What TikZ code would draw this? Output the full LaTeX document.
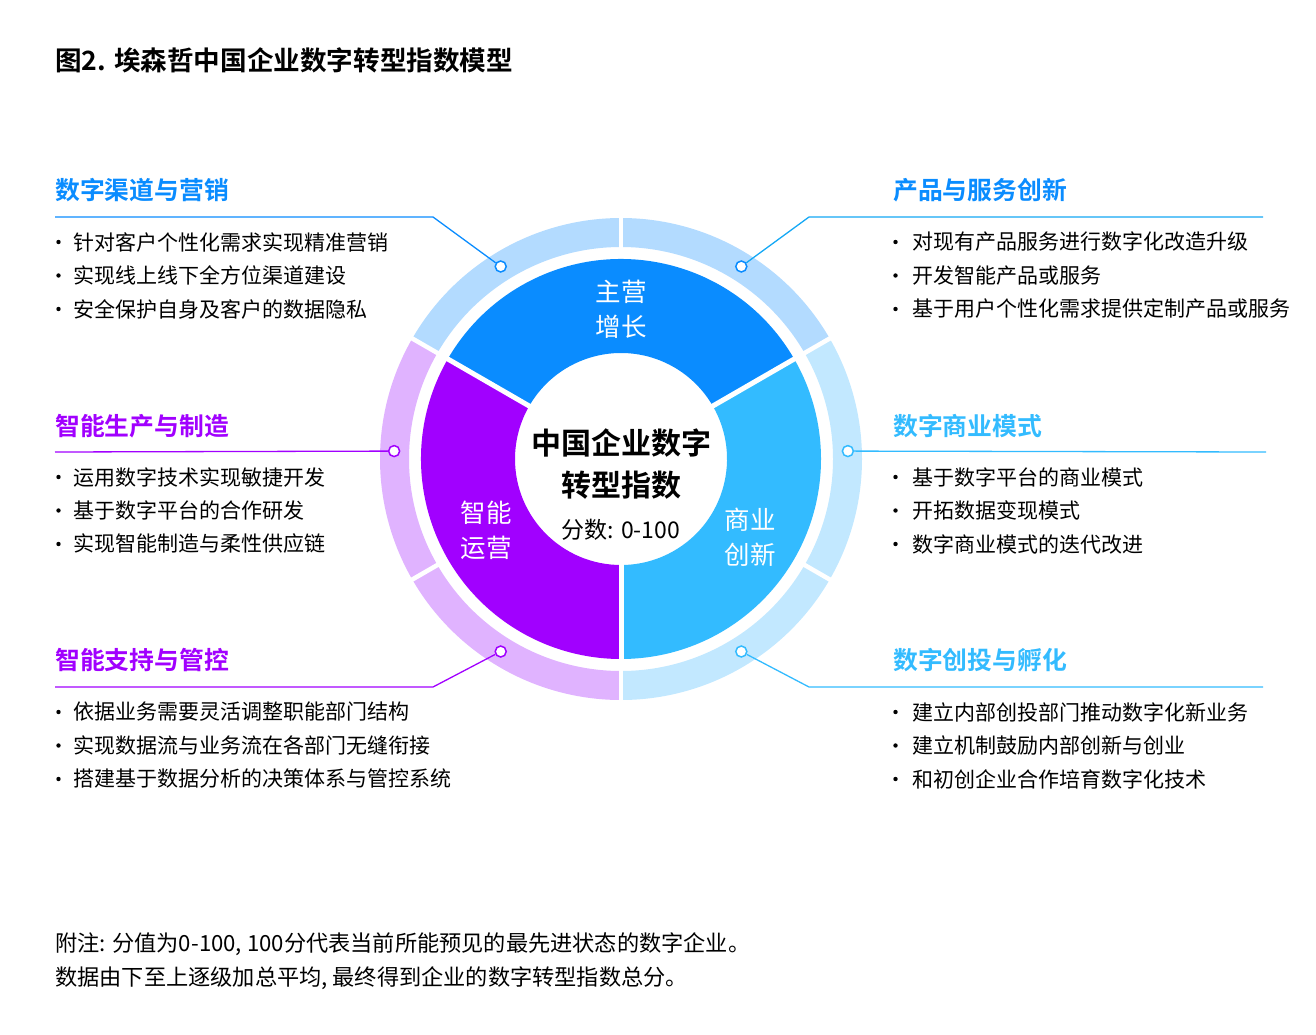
\documentclass[tikz,border=0pt]{standalone}
\usepackage{fontspec}
\setmainfont{Noto Sans CJK SC}[BoldFont={Noto Sans CJK SC Bold}]
\usepackage{tikz}
\usetikzlibrary{calc}

\definecolor{acnblue}{HTML}{0A8CFF}
\definecolor{acnpurple}{HTML}{A100FF}
\definecolor{acnsky}{HTML}{33BBFF}
\definecolor{acncyan}{HTML}{14A8F5}
\definecolor{ringblue}{HTML}{B3DBFF}
\definecolor{ringpurple}{HTML}{E0B3FF}
\definecolor{ringsky}{HTML}{C2E8FF}

\tikzset{
  heading/.style={anchor=west, inner sep=0pt, font=\fontsize{24.8}{28}\selectfont\bfseries},
  item/.style={anchor=west, inner sep=0pt, font=\fontsize{21}{24}\selectfont},
  pin/.style={circle, draw, fill=white, line width=1.5pt, inner sep=0pt, minimum size=11pt},
  link/.style={line width=1.3pt},
  seglabel/.style={white, align=center, font=\fontsize{25.5}{35}\selectfont},
}

\begin{document}
\begin{tikzpicture}[x=1pt,y=1pt]
\useasboundingbox (0,0) rectangle (1316,-1035);

\node[anchor=west, inner sep=0pt, font=\fontsize{26.6}{30}\selectfont\bfseries] (title) at (55,-60) {图2. 埃森哲中国企业数字转型指数模型};

% rings
\begin{scope}[shift={(621,-459)}]
\foreach \a/\b/\c in {90/150/ringblue, 30/90/ringblue, 150/210/ringpurple, 210/270/ringpurple, 270/330/ringsky, 330/390/ringsky}
  \fill[\c] (\a:241) arc[start angle=\a, end angle=\b, radius=241] -- (\b:212) arc[start angle=\b, end angle=\a, radius=212] -- cycle;
\foreach \a/\b/\c in {30/150/acnblue, 150/270/acnpurple, 270/390/acnsky}
  \fill[\c] (\a:200) arc[start angle=\a, end angle=\b, radius=200] -- (\b:106) arc[start angle=\b, end angle=\a, radius=106] -- cycle;
\foreach \a in {30,150,270}
  \draw[white, line width=5pt] (\a:100) -- (\a:204);
\foreach \a in {30,90,...,330}
  \draw[white, line width=4.5pt] (\a:208) -- (\a:245);

\node[pin, draw=acnblue] (ulpin) at (122:227) {};
\node[pin, draw=acnblue] (urpin) at (58:227) {};
\node[pin, draw=acnpurple] (mlpin) at (178:227) {};
\node[pin, draw=acnsky] (mrpin) at (2:227) {};
\node[pin, draw=acnpurple] (llpin) at (238:227) {};
\node[pin, draw=acnsky] (lrpin) at (302:227) {};
\end{scope}

% centre
\node[font=\fontsize{30}{34}\selectfont\bfseries] (core) at (621,-443) {中国企业数字};
\node[font=\fontsize{30}{34}\selectfont\bfseries] (core2) at (621,-485) {转型指数};
\node[font=\fontsize{23}{26}\selectfont] (score) at (621,-530) {分数: 0-100};

\node[seglabel] (growth) at (621,-309) {主营\\增长};
\node[seglabel] (ops) at (486,-530) {智能\\运营};
\node[seglabel] (biz) at (750,-537) {商业\\创新};

% connectors
\coordinate (ulstart) at (55,-217);
\coordinate (ulbend) at (433,-217);
\coordinate (urbend) at (809,-217);
\coordinate (urend) at (1263,-217);
\coordinate (mlstart) at (55,-452);
\coordinate (mrend) at (1266,-452);
\coordinate (llstart) at (55,-687);
\coordinate (llbend) at (433,-687);
\coordinate (lrbend) at (809,-687);
\coordinate (lrend) at (1263,-687);

\draw[link, acnblue] (ulstart) -- (ulbend) -- (ulpin);
\draw[link, acncyan] (urpin) -- (urbend) -- (urend);
\draw[link, acnpurple] (mlstart) -- (mlpin);
\draw[link, acnsky] (mrpin) -- (mrend);
\draw[link, acnpurple] (llstart) -- (llbend) -- (llpin);
\draw[link, acnsky] (lrpin) -- (lrbend) -- (lrend);

% headings
\node[heading, acnblue] (channel) at (55,-190) {数字渠道与营销};
\node[heading, acnblue] (product) at (893,-190) {产品与服务创新};
\node[heading, acnpurple] (making) at (55,-426) {智能生产与制造};
\node[heading, acnsky] (model) at (893,-426) {数字商业模式};
\node[heading, acnpurple] (support) at (55,-660) {智能支持与管控};
\node[heading, acnsky] (venture) at (893,-660) {数字创投与孵化};

% bullet lists
\foreach \t [count=\i] in {针对客户个性化需求实现精准营销, 实现线上线下全方位渠道建设, 安全保护自身及客户的数据隐私} {
  \fill (58.5,-242-33.5*\i+33.5) circle (2.2);
  \node[item] (ch\i) at (73,-242-33.5*\i+33.5) {\t};
}
\foreach \t [count=\i] in {对现有产品服务进行数字化改造升级, 开发智能产品或服务, 基于用户个性化需求提供定制产品或服务} {
  \fill (895.5,-242-33.5*\i+33.5) circle (2.2);
  \node[item] (pr\i) at (912,-242-33.5*\i+33.5) {\t};
}
\foreach \t [count=\i] in {运用数字技术实现敏捷开发, 基于数字平台的合作研发, 实现智能制造与柔性供应链} {
  \fill (58.5,-477-33.5*\i+33.5) circle (2.2);
  \node[item] (mk\i) at (73,-477-33.5*\i+33.5) {\t};
}
\foreach \t [count=\i] in {基于数字平台的商业模式, 开拓数据变现模式, 数字商业模式的迭代改进} {
  \fill (895.5,-477-33.5*\i+33.5) circle (2.2);
  \node[item] (md\i) at (912,-477-33.5*\i+33.5) {\t};
}
\foreach \t [count=\i] in {依据业务需要灵活调整职能部门结构, 实现数据流与业务流在各部门无缝衔接, 搭建基于数据分析的决策体系与管控系统} {
  \fill (58.5,-712-33.5*\i+33.5) circle (2.2);
  \node[item] (sp\i) at (73,-712-33.5*\i+33.5) {\t};
}
\foreach \t [count=\i] in {建立内部创投部门推动数字化新业务, 建立机制鼓励内部创新与创业, 和初创企业合作培育数字化技术} {
  \fill (895.5,-712-33.5*\i+33.5) circle (2.2);
  \node[item] (vt\i) at (912,-712-33.5*\i+33.5) {\t};
}

% note
\node[item, font=\fontsize{22.2}{24}\selectfont] (note1) at (55,-944) {附注: 分值为0-100, 100分代表当前所能预见的最先进状态的数字企业。};
\node[item, font=\fontsize{22.2}{24}\selectfont] (note2) at (55,-978) {数据由下至上逐级加总平均, 最终得到企业的数字转型指数总分。};

\end{tikzpicture}
\end{document}
